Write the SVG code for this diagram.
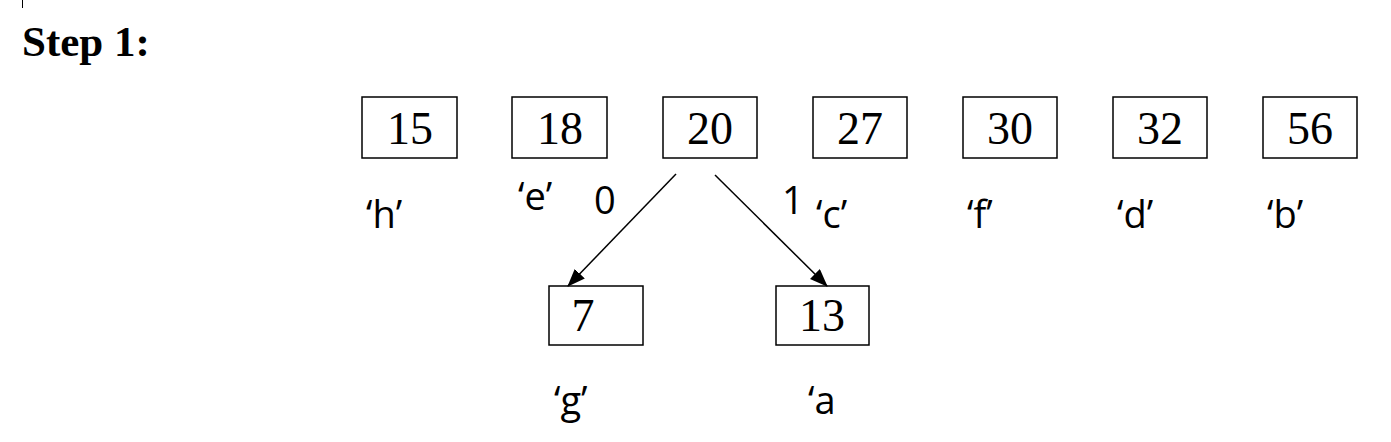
<svg xmlns="http://www.w3.org/2000/svg" width="1391" height="442" viewBox="0 0 1391 442">
<style>
.b{fill:#fff;stroke:#000;stroke-width:1.5}
.n{font-family:"Liberation Serif",serif;font-size:46px;text-anchor:middle}
.l{font-family:"Open Sans","Liberation Sans",sans-serif;font-size:38px}
.c{stroke:#000;stroke-width:1.5;fill:none;marker-end:url(#ah)}
</style>
<defs><marker id="ah" markerWidth="18" markerHeight="14" refX="17" refY="7" orient="auto" markerUnits="userSpaceOnUse"><path d="M0,0 L18,7 L0,14 Z" fill="#000"/></marker></defs>
<rect width="1391" height="442" fill="#fff"/>
<line x1="22.5" y1="0" x2="22.5" y2="8" stroke="#000"/>
<text x="22" y="56" font-family="Liberation Serif,serif" font-size="43" font-weight="bold">Step 1:</text>
<g id="n15"><rect class="b" x="362" y="97" width="95" height="61"/><text class="n" x="410" y="144">15</text></g>
<g id="n18"><rect class="b" x="512" y="97" width="95" height="61"/><text class="n" x="560" y="144">18</text></g>
<g id="n20"><rect class="b" x="663" y="97" width="94" height="61"/><text class="n" x="710" y="144">20</text></g>
<g id="n27"><rect class="b" x="813" y="97" width="94" height="61"/><text class="n" x="860" y="144">27</text></g>
<g id="n30"><rect class="b" x="963" y="97" width="94" height="61"/><text class="n" x="1010" y="144">30</text></g>
<g id="n32"><rect class="b" x="1113" y="97" width="94" height="61"/><text class="n" x="1160" y="144">32</text></g>
<g id="n56"><rect class="b" x="1263" y="97" width="94" height="61"/><text class="n" x="1310" y="144">56</text></g>
<g id="n7"><rect class="b" x="549" y="286" width="94" height="59"/><text class="n" x="583" y="331">7</text></g>
<g id="n13"><rect class="b" x="776" y="286" width="93" height="59"/><text class="n" x="822" y="331">13</text></g>
<g id="connectors">
<line class="c" x1="676" y1="174" x2="568" y2="286"/>
<line class="c" x1="715" y1="175" x2="827" y2="286"/>
</g>
<g id="labels" class="l">
<text x="366" y="228">‘h’</text>
<text x="518" y="210">‘e’</text>
<text x="594" y="214">0</text>
<text x="782" y="214">1</text>
<text x="816" y="228">‘c’</text>
<text x="967" y="228">‘f’</text>
<text x="1117" y="228">‘d’</text>
<text x="1267" y="228">‘b’</text>
<text x="554" y="414">‘g’</text>
<text x="808" y="414">‘a</text>
</g>
</svg>
